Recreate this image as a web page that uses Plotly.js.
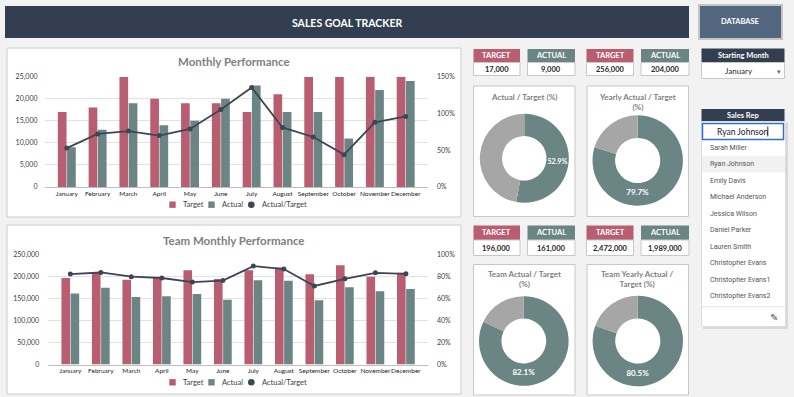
<!DOCTYPE html>
<html>
<head>
<meta charset="utf-8">
<script src="https://cdn.plot.ly/plotly-3.0.1.min.js"></script>
<style>
  html, body { margin: 0; padding: 0; background: #f2f2f2; }
  #chart { width: 794px; height: 397px; }
</style>
</head>
<body>
<div id="chart"></div>
<script>
// ---------------- DATA ----------------
const months = ['January','February','March','April','May','June','July','August','September','October','November','December'];
const target = [17000,18000,25000,20000,19000,19000,17000,21000,25000,25000,25000,25000];
const actual = [9000,13000,19000,14000,15000,20000,23000,17000,17000,11000,22000,24000];
const ratio  = [52.9,72.2,76.0,70.0,78.9,105.3,135.3,81.0,68.0,44.0,88.0,96.0];

const teamTarget = [196000,208000,192000,197000,214000,194000,214000,220000,205000,225000,199000,208000];
const teamActual = [161000,174000,153000,155000,160000,147000,191000,190000,146000,175000,166000,171000];
const teamRatio  = [82.1,83.5,79.7,78.5,74.8,76.2,89.3,86.6,71.3,77.8,83.2,82.3];

const seriesNames = ['Target','Actual','Actual/Target'];

const kpiLabels = ['TARGET','ACTUAL'];
const kpiMonth     = [17000, 9000];
const kpiYear      = [256000, 204000];
const kpiTeamMonth = [196000, 161000];
const kpiTeamYear  = [2472000, 1989000];

const donutTitles = ['Actual / Target (%)', 'Yearly Actual / Target<br>(%)', 'Team Actual / Target<br>(%)', 'Team Yearly Actual /<br>Target (%)'];
const donutPct = [52.9, 79.7, 82.1, 80.5];

const startingMonth = 'January';
const selectedRep = 'Ryan Johnson';
const salesReps = ['Sarah Miller','Ryan Johnson','Emily Davis','Michael Anderson','Jessica Wilson','Daniel Parker','Lauren Smith','Christopher Evans','Christopher Evans1','Christopher Evans2'];

// ---------------- STYLE ----------------
const W = 794, H = 397;
const ROSE = '#b95d70', TEAL = '#6a8584', LINE = '#3d4656', GREY = '#a6a6a6', NAVY = '#333f50';
const FONT = 'Lato, "Open Sans", sans-serif';
const px = x => x / W;
const py = y => 1 - y / H;

const shapes = [];
const annotations = [];
function rect(x0, y0, x1, y1, fill, line, lw, layer) {
  shapes.push({type:'rect', xref:'paper', yref:'paper', layer: layer || 'below',
    x0:px(x0), x1:px(x1), y0:py(y1), y1:py(y0),
    fillcolor: fill, line:{color: line || 'rgba(0,0,0,0)', width: lw === undefined ? (line ? 1 : 0) : lw}});
}
function circle(cx, cy, r, fill) {
  shapes.push({type:'circle', xref:'paper', yref:'paper', layer:'above',
    x0:px(cx - r), x1:px(cx + r), y0:py(cy + r), y1:py(cy - r),
    fillcolor: fill, line:{width:0}});
}
function hline(x0, x1, y, color, w) {
  shapes.push({type:'line', xref:'paper', yref:'paper', layer:'below',
    x0:px(x0), x1:px(x1), y0:py(y), y1:py(y), line:{color:color, width:w||1}});
}
function vline(x, y0, y1, color, w) {
  shapes.push({type:'line', xref:'paper', yref:'paper', layer:'above',
    x0:px(x), x1:px(x), y0:py(y0), y1:py(y1), line:{color:color, width:w||1}});
}
function txt(x, y, text, size, color, align, family) {
  annotations.push({xref:'paper', yref:'paper', x:px(x), y:py(y), text:text, showarrow:false,
    xanchor: align || 'center', yanchor:'middle', align: align === 'left' ? 'left' : 'center',
    font:{family: family || FONT, size:size, color:color}});
}
const fmt = v => v.toLocaleString('en-US');

// Header
rect(5, 6, 689, 38, NAVY);
txt(347, 22.5, '<b>SALES GOAL TRACKER</b>', 10.5, '#ffffff');
rect(699, 5, 782, 39, '#52677f', '#c5c5c5', 2);
txt(740.5, 22, '<b>DATABASE</b>', 7.5, '#ffffff');

// Chart panels
rect(7, 48, 461, 217, '#ffffff', '#cccccc', 1);
rect(7, 225, 461, 394, '#ffffff', '#cccccc', 1);
txt(234, 61, '<b>Monthly Performance</b>', 11.5, '#7f7f7f');
txt(234, 240, '<b>Team Monthly Performance</b>', 11.5, '#7f7f7f');

// Chart legends (compact, drawn like the original)
function chartLegend(y) {
  rect(169.3, y - 3.2, 175.7, y + 3.2, ROSE, null, 0, 'above');
  txt(180.5, y, seriesNames[0], 7.5, '#404040', 'left');
  rect(208.3, y - 3.2, 214.7, y + 3.2, TEAL, null, 0, 'above');
  txt(219.5, y, seriesNames[1], 7.5, '#404040', 'left');
  circle(251.3, y, 3.3, LINE);
  txt(259.5, y, seriesNames[2], 7.5, '#404040', 'left');
}
chartLegend(204.7);
chartLegend(382.3);

// KPI boxes
function kpiRow(yTop, yMid, yBot, pairs) {
  const xs = [[473.5,520],[527.5,575],[586.5,633.5],[641,689]];
  pairs.forEach((pair, pi) => {
    pair.forEach((val, i) => {
      const [x0, x1] = xs[pi*2 + i];
      rect(x0, yTop, x1, yMid, i === 0 ? ROSE : TEAL);
      rect(x0, yMid, x1, yBot, '#ffffff', '#c8c8c8', 1);
      txt((x0+x1)/2, (yTop+yMid)/2, '<b>' + kpiLabels[i] + '</b>', 7.5, '#ffffff');
      txt((x0+x1)/2, (yMid+yBot)/2 + 0.5, '<b>' + fmt(val) + '</b>', 7.5, '#262626');
    });
  });
}
kpiRow(49, 62.5, 75.5, [kpiMonth, kpiYear]);
kpiRow(225.5, 240, 255.5, [kpiTeamMonth, kpiTeamYear]);

// Donut panels
const donutPanels = [[473.5,86,575,216.5],[587,86,688.5,216.5],[473.5,264.5,575,395],[587,264.5,688.5,395]];
const donutCenters = [[524.3,158.3,44.5],[637.7,160.5,45.2],[523.8,341,44.8],[637.8,341,45.2]];
const donutTitleY = [96.7, 102, 279, 279];
donutPanels.forEach((p, i) => {
  rect(p[0], p[1], p[2], p[3], '#ffffff', '#c8c8c8', 1);
  txt((p[0]+p[2])/2, donutTitleY[i], '<b>' + donutTitles[i] + '</b>', 8, '#7f7f7f');
});

// Sidebar
rect(701.5, 48.5, 784.5, 62.5, NAVY);
txt(743, 55.5, '<b>Starting Month</b>', 7.5, '#ffffff');
rect(701.5, 62.5, 784.5, 78.5, '#ffffff', '#c8c8c8', 1);
txt(738.5, 71, startingMonth, 8, '#262626');
txt(779, 71, '▾', 7, '#666666');

rect(701.5, 109, 784.5, 122, NAVY);
txt(743, 115.5, '<b>Sales Rep</b>', 7.5, '#ffffff');
rect(703, 123, 788, 329, 'rgba(0,0,0,0.10)');
rect(701.5, 121.5, 785.5, 326.5, '#ffffff', '#dddddd', 1);
rect(702.5, 123.5, 783.5, 139.5, '#ffffff', '#2f6fd6', 1.5);
txt(742.5, 131.5, selectedRep, 8.5, '#1a1a1a');
vline(767.8, 126.5, 136.5, '#000000', 0.8);
const repY0 = 147.8, repStep = 16.48;
salesReps.forEach((name, i) => {
  const y = repY0 + i * repStep;
  if (name === selectedRep) rect(702, y - 8, 785, y + 8, '#f1f1f1');
  txt(707.5, y, name, 7, '#555555', 'left', 'Roboto, sans-serif');
});
hline(702, 785, 306.7, '#e3e3e3', 1);
txt(774.3, 316.7, '✎', 10, '#555555');

// ---------------- TRACES ----------------
const barCommon = {type:'bar', hoverinfo:'skip', showlegend:false};
const traces = [
  Object.assign({}, barCommon, {x:months, y:target, name:seriesNames[0], xaxis:'x', yaxis:'y', marker:{color:ROSE, line:{width:0}}}),
  Object.assign({}, barCommon, {x:months, y:actual, name:seriesNames[1], xaxis:'x', yaxis:'y', marker:{color:TEAL, line:{width:0}}}),
  {type:'scatter', mode:'lines+markers', x:months, y:ratio, name:seriesNames[2], xaxis:'x', yaxis:'y2',
   line:{color:LINE, width:1.8}, marker:{color:LINE, size:5}, showlegend:false, hoverinfo:'skip'},

  Object.assign({}, barCommon, {x:months, y:teamTarget, name:seriesNames[0], xaxis:'x2', yaxis:'y3', marker:{color:ROSE, line:{width:0}}}),
  Object.assign({}, barCommon, {x:months, y:teamActual, name:seriesNames[1], xaxis:'x2', yaxis:'y3', marker:{color:TEAL, line:{width:0}}}),
  {type:'scatter', mode:'lines+markers', x:months, y:teamRatio, name:seriesNames[2], xaxis:'x2', yaxis:'y4',
   line:{color:LINE, width:1.8}, marker:{color:LINE, size:5}, showlegend:false, hoverinfo:'skip'}
];

donutPct.forEach((pct, i) => {
  const [cx, cy, r] = donutCenters[i];
  traces.push({
    type:'pie', values:[pct, 100 - pct], text:[pct.toFixed(1) + '%', ''],
    textinfo:'text', textposition:'inside', insidetextorientation:'horizontal',
    textfont:{family:FONT, size:8, color:'#ffffff', weight:'bold'},
    hole:0.5, sort:false, direction:'clockwise', rotation:0,
    marker:{colors:[TEAL, GREY], line:{width:0}},
    domain:{x:[px(cx - r), px(cx + r)], y:[py(cy + r), py(cy - r)]},
    showlegend:false, hoverinfo:'skip'
  });
});

// ---------------- LAYOUT ----------------
const tickFont = {family:FONT, size:7, color:'#404040'};
const xTickFont = {family:FONT, size:6.5, color:'#262626'};

const layout = {
  width:W, height:H, autosize:false,
  margin:{l:0, r:0, t:0, b:0, pad:0},
  paper_bgcolor:'#f2f2f2', plot_bgcolor:'rgba(0,0,0,0)',
  font:{family:FONT},
  barmode:'group', bargap:0.4, bargroupgap:0.06,
  showlegend:false,
  xaxis:{domain:[px(44.5), px(428)], anchor:'y', tickfont:xTickFont, tickangle:0, showline:true, linecolor:'#bfbfbf', linewidth:1, ticks:'', fixedrange:true, showgrid:false},
  yaxis:{domain:[py(187), py(76.7)], anchor:'x', range:[0,25000], dtick:5000, tickformat:',d', tickfont:tickFont,
         gridcolor:'#e2e2e2', zeroline:false, ticklabelstandoff:6, fixedrange:true},
  yaxis2:{overlaying:'y', side:'right', anchor:'x', range:[0,150], dtick:50, ticksuffix:'%', tickfont:tickFont,
          showgrid:false, zeroline:false, ticklabelstandoff:8, fixedrange:true},
  xaxis2:{domain:[px(48.2), px(428)], anchor:'y3', tickfont:xTickFont, tickangle:0, showline:true, linecolor:'#bfbfbf', linewidth:1, ticks:'', fixedrange:true, showgrid:false},
  yaxis3:{domain:[py(364.5), py(254.3)], anchor:'x2', range:[0,250000], dtick:50000, tickformat:',d', tickfont:tickFont,
          gridcolor:'#e2e2e2', zeroline:false, ticklabelstandoff:8, fixedrange:true},
  yaxis4:{overlaying:'y3', side:'right', anchor:'x2', range:[0,100], dtick:20, ticksuffix:'%', tickfont:tickFont,
          showgrid:false, zeroline:false, ticklabelstandoff:8, fixedrange:true},
  shapes:shapes,
  annotations:annotations
};

Plotly.newPlot('chart', traces, layout, {displayModeBar:false, staticPlot:true});
</script>
</body>
</html>
